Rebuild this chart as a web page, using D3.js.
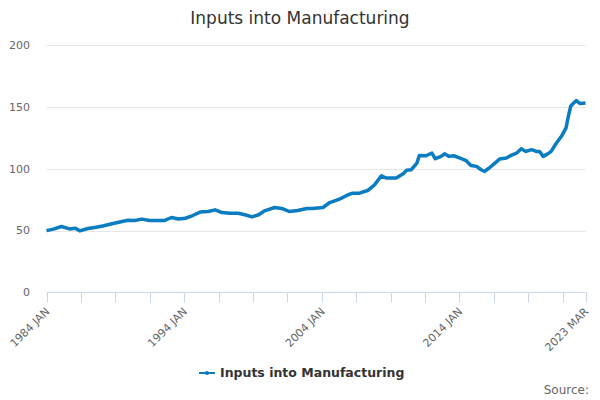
<!DOCTYPE html>
<html lang="en">
<head>
    <meta charset="UTF-8">
    <title>Inputs into Manufacturing</title>
    <script src="https://cdn.jsdelivr.net/npm/d3@7"></script>
    <style>
        body { margin: 0; background: #fff; }
        svg { font-family: "DejaVu Sans", sans-serif; }
        .grid line { stroke: #e6e6e6; }
    </style>
</head>
<body>
    <svg id="chart" width="600" height="400"></svg>
    <script>
        // series (month -> index value)
        let months = ["1984-01", "1984-07", "1985-02", "1985-09", "1986-02", "1986-06", "1987-01", "1987-07",
            "1988-02", "1988-10", "1989-05", "1989-12", "1990-06", "1990-12", "1991-07", "1992-08",
            "1993-02", "1993-08", "1994-02", "1994-08", "1995-03", "1995-10", "1996-04", "1996-10",
            "1997-05", "1997-12", "1998-06", "1998-12", "1999-06", "1999-11", "2000-08", "2001-02",
            "2001-09", "2002-04", "2002-12", "2003-05", "2004-02", "2004-08", "2005-05", "2005-12",
            "2006-04", "2006-10", "2007-05", "2007-11", "2008-05", "2008-09", "2009-06", "2009-12",
            "2010-03", "2010-07", "2010-12", "2011-02", "2011-08", "2012-01", "2012-04", "2012-09",
            "2012-12", "2013-04", "2013-08", "2014-01", "2014-07", "2014-11", "2015-04", "2015-08",
            "2015-11", "2016-03", "2016-08", "2016-12", "2017-06", "2017-10", "2018-03", "2018-07",
            "2018-11", "2019-04", "2019-08", "2019-11", "2020-02", "2020-06", "2020-09", "2021-01",
            "2021-06", "2021-10", "2021-12", "2022-02", "2022-04", "2022-07", "2022-10", "2023-03"]
        let values = [50.0, 51.2, 53.3, 51.4, 52.0, 49.8, 51.7, 52.5,
            53.8, 55.5, 57.0, 58.4, 58.2, 59.3, 58.2, 58.2,
            60.6, 59.4, 60.0, 62.0, 65.0, 65.4, 66.8, 64.6,
            64.1, 64.1, 62.8, 61.1, 62.8, 66.0, 68.7, 67.9,
            65.4, 66.2, 67.9, 67.9, 68.7, 72.7, 75.7, 79.0,
            80.3, 80.3, 82.4, 87.0, 94.3, 92.5, 92.5, 96.0,
            98.7, 99.2, 104.6, 110.8, 110.5, 112.7, 108.1, 110.0,
            112.1, 110.0, 110.5, 108.7, 106.5, 102.7, 101.9, 99.2,
            97.8, 100.6, 104.6, 107.8, 108.7, 110.8, 112.7, 116.2,
            114.0, 115.4, 114.0, 114.0, 110.0, 112.0, 114.0, 120.0,
            126.2, 133.0, 142.4, 150.5, 152.5, 155.1, 152.7, 153.2]
        let yTicks = [0, 50, 100, 150, 200]
        let seriesName = "Inputs into Manufacturing"
        let title = "Inputs into Manufacturing"

        let parse = d3.timeParse("%Y-%m")
        let data = months.map((m, i) => ({ date: parse(m), value: values[i] }))

        let svg = d3.select("#chart")
        let plotLeft = 46.5, plotRight = 585.5, plotTop = 45, plotBottom = 292.5
        let start = data[0].date, end = data[data.length - 1].date

        let x = d3.scaleTime().domain([start, end]).range([plotLeft, plotRight])
        let y = d3.scaleLinear().domain([0, 200]).range([plotBottom, plotTop])

        // title
        svg.append("text")
            .attr("x", 300).attr("y", 24)
            .attr("text-anchor", "middle")
            .attr("font-size", 17)
            .attr("fill", "#333")
            .text(title)

        // grid + y labels
        let grid = svg.append("g").attr("class", "grid")
        grid.selectAll("line")
            .data(yTicks.filter(d => d > 0))
            .join("line")
            .attr("x1", plotLeft).attr("x2", plotRight)
            .attr("y1", d => Math.round(y(d)) + 0.5)
            .attr("y2", d => Math.round(y(d)) + 0.5)
        svg.append("g").selectAll("text")
            .data(yTicks)
            .join("text")
            .attr("x", 30).attr("y", d => y(d))
            .attr("dy", "0.35em")
            .attr("text-anchor", "end")
            .attr("font-size", 11)
            .attr("fill", "#666")
            .text(d => d)

        // x axis: tick every 30 months, label every 10 years + the last month
        let tickDates = d3.range(0, 471, 30).map(m => d3.timeMonth.offset(start, m))
        tickDates.push(end)
        let fmt = d => d3.timeFormat("%Y")(d) + " " + d3.timeFormat("%b")(d).toUpperCase()
        let xAxis = svg.append("g")
        xAxis.append("line")
            .attr("x1", plotLeft).attr("x2", plotRight)
            .attr("y1", plotBottom).attr("y2", plotBottom)
            .attr("stroke", "#ccd6eb")
        xAxis.selectAll(".tick")
            .data(tickDates)
            .join("line")
            .attr("x1", d => Math.round(x(d)) + 0.5).attr("x2", d => Math.round(x(d)) + 0.5)
            .attr("y1", plotBottom).attr("y2", plotBottom + 10)
            .attr("stroke", "#ccd6eb")
        let labelDates = tickDates.filter((d, i) => i % 4 === 0 || i === tickDates.length - 1)
        xAxis.selectAll("text")
            .data(labelDates)
            .join("text")
            .attr("transform", d => `translate(${x(d) + 1},${plotBottom + 17}) rotate(-45)`)
            .attr("text-anchor", "end")
            .attr("dy", "0.35em")
            .attr("font-size", 11)
            .attr("fill", "#666")
            .text(fmt)

        // series
        let line = d3.line().x(d => x(d.date)).y(d => y(d.value))
        svg.append("path")
            .datum(data)
            .attr("fill", "none")
            .attr("stroke", "#0a7cc1")
            .attr("stroke-width", 3.5)
            .attr("stroke-linejoin", "round")
            .attr("d", line)

        // legend
        let lg = svg.append("g").attr("transform", "translate(199,373)")
        lg.append("line").attr("x1", 0).attr("x2", 16)
            .attr("stroke", "#0a7cc1").attr("stroke-width", 2)
        lg.append("circle").attr("cx", 8).attr("r", 2).attr("fill", "#0a7cc1")
        lg.append("text")
            .attr("x", 21).attr("dy", "0.35em")
            .attr("font-size", 12.5)
            .attr("font-weight", "bold")
            .attr("fill", "#333")
            .text(seriesName)

        // credits
        svg.append("text")
            .attr("x", 589).attr("y", 394)
            .attr("text-anchor", "end")
            .attr("font-size", 12)
            .attr("fill", "#666")
            .text("Source:")
    </script>
</body>
</html>
